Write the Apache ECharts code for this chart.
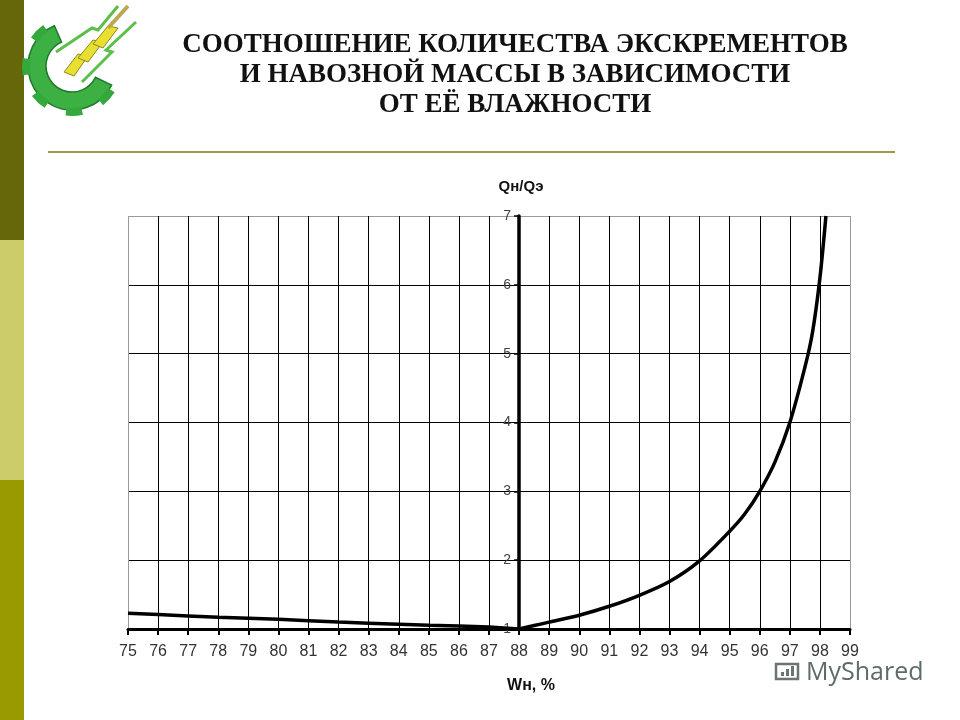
<!DOCTYPE html>
<html>
<head>
<meta charset="utf-8">
<script src="https://cdn.jsdelivr.net/npm/echarts@6/dist/echarts.min.js"></script>
<style>html,body{margin:0;padding:0;background:#fff;}#c{width:960px;height:720px;}</style>
</head>
<body>
<div id="c"></div>
<script>
// Data
const titleLines = ['СООТНОШЕНИЕ КОЛИЧЕСТВА ЭКСКРЕМЕНТОВ', 'И НАВОЗНОЙ МАССЫ В ЗАВИСИМОСТИ', 'ОТ ЕЁ ВЛАЖНОСТИ'];
const xName = 'Wн, %';
const yName = 'Qн/Qэ';
// left branch (W < 88 %)
const leftW = [75, 76, 77, 78, 79, 80, 81, 82, 83, 84, 85, 86, 87, 88];
const leftQ = [1.23, 1.21, 1.19, 1.17, 1.155, 1.14, 1.12, 1.10, 1.085, 1.07, 1.055, 1.045, 1.03, 1.0];
// right branch (W >= 88 %)
const rightW = [88, 88.5, 89, 90, 91, 92, 93, 94, 95, 95.5, 96, 96.5, 97, 97.5, 97.75, 98, 98.2];
const rightQ = [1.0, 1.05, 1.10, 1.20, 1.33, 1.49, 1.69, 1.99, 2.42, 2.67, 3.0, 3.42, 4.0, 4.8, 5.3, 6.1, 7.0];

const chart = echarts.init(document.getElementById('c'));
const GL = 128, GT = 216, GR = 110, GB = 91;
const xMin = 75, xMax = 99, yMin = 1, yMax = 7;
const yAxisAt = 88;
const plotW = 960 - GL - GR;
const yOffset = -(yAxisAt - xMin) / (xMax - xMin) * plotW;

const xSplitColors = ['#9a9a9a'].concat(new Array(xMax - xMin - 1).fill('#000'));
const ySplitColors = ['#9a9a9a'].concat(new Array(yMax - yMin - 1).fill('#000'));

const pair = (xs, ys) => xs.map((x, i) => [x, ys[i]]);

chart.setOption({
  animation: false,
  backgroundColor: '#fff',
  grid: { left: GL, top: GT, right: GR, bottom: GB, show: false },
  xAxis: {
    type: 'value', min: xMin, max: xMax, interval: 1,
    axisLine: { onZero: false, lineStyle: { color: '#000', width: 3 } },
    axisTick: { show: true, length: 6, lineStyle: { color: '#000', width: 2 } },
    axisLabel: { color: '#333', fontFamily: 'Liberation Sans, Arial', fontSize: 16, margin: 15 },
    splitLine: { show: true, lineStyle: { color: xSplitColors, width: 1 } }
  },
  yAxis: {
    type: 'value', min: yMin, max: yMax, interval: 1,
    position: 'left', offset: yOffset,
    axisLine: { show: true, onZero: false, lineStyle: { color: '#000', width: 3.5 } },
    axisTick: { show: true, length: 5, lineStyle: { color: '#000', width: 1.5 } },
    axisLabel: { color: '#444', fontFamily: 'Liberation Sans, Arial', fontSize: 14, margin: 8 },
    splitLine: { show: true, lineStyle: { color: ySplitColors, width: 1 } }
  },
  series: [
    { type: 'line', data: pair(leftW, leftQ), symbol: 'none', clip: true,
      lineStyle: { color: '#000', width: 3.5 } },
    { type: 'line', data: pair(rightW, rightQ), symbol: 'none', smooth: 0.3, clip: true,
      lineStyle: { color: '#000', width: 3.5 } }
  ],
  graphic: [
    { type: 'rect', shape: { x: 0, y: 0, width: 24, height: 240 }, style: { fill: '#66660a' } },
    { type: 'rect', shape: { x: 0, y: 240, width: 24, height: 240 }, style: { fill: '#cccc6a' } },
    { type: 'rect', shape: { x: 0, y: 480, width: 24, height: 240 }, style: { fill: '#999900' } },
    { type: 'rect', shape: { x: 48, y: 151, width: 847, height: 2 }, style: { fill: '#9c9c4a' } },
    // logo (approximation)
    { type: 'sector', shape: { cx: 72, cy: 66, r: 44, r0: 26, startAngle: 0.45, endAngle: 4.3, clockwise: true },
      style: { fill: '#3cb043', stroke: '#1f7a2c', lineWidth: 1.5 } },
    { type: 'sector', shape: { cx: 72, cy: 66, r: 50, r0: 42, startAngle: 0.55, endAngle: 0.9 }, style: { fill: '#35a83c' } },
    { type: 'sector', shape: { cx: 72, cy: 66, r: 50, r0: 42, startAngle: 1.35, endAngle: 1.7 }, style: { fill: '#35a83c' } },
    { type: 'sector', shape: { cx: 72, cy: 66, r: 50, r0: 42, startAngle: 2.15, endAngle: 2.5 }, style: { fill: '#35a83c' } },
    { type: 'sector', shape: { cx: 72, cy: 66, r: 50, r0: 42, startAngle: 2.95, endAngle: 3.3 }, style: { fill: '#35a83c' } },
    { type: 'sector', shape: { cx: 72, cy: 66, r: 50, r0: 42, startAngle: 3.75, endAngle: 4.1 }, style: { fill: '#35a83c' } },
    { type: 'polyline', shape: { points: [[56, 52], [92, 28], [98, 30], [118, 6]] }, style: { stroke: '#5cbf4a', lineWidth: 3 } },
    { type: 'polyline', shape: { points: [[82, 82], [112, 52], [106, 50], [136, 22]] }, style: { stroke: '#5cbf4a', lineWidth: 3 } },
    { type: 'polygon', shape: { points: [[64, 72], [78, 54], [88, 56], [74, 76]] }, style: { fill: '#e8df30', stroke: '#8a8a20', lineWidth: 1 } },
    { type: 'polygon', shape: { points: [[78, 58], [93, 40], [103, 42], [88, 62]] }, style: { fill: '#e8df30', stroke: '#8a8a20', lineWidth: 1 } },
    { type: 'polygon', shape: { points: [[93, 44], [108, 26], [118, 28], [103, 48]] }, style: { fill: '#e8df30', stroke: '#8a8a20', lineWidth: 1 } },
    { type: 'polyline', shape: { points: [[108, 28], [128, 6]] }, style: { stroke: '#b8a850', lineWidth: 4 } },
    // title
    { type: 'text', x: 515, y: 45, style: { text: titleLines[0], textAlign: 'center', textVerticalAlign: 'middle', font: 'bold 27px "Liberation Serif", serif', fill: '#111' } },
    { type: 'text', x: 515, y: 75, style: { text: titleLines[1], textAlign: 'center', textVerticalAlign: 'middle', font: 'bold 27px "Liberation Serif", serif', fill: '#111' } },
    { type: 'text', x: 515, y: 105, style: { text: titleLines[2], textAlign: 'center', textVerticalAlign: 'middle', font: 'bold 27px "Liberation Serif", serif', fill: '#111' } },
    // axis names
    { type: 'text', x: 521, y: 187, style: { text: yName, textAlign: 'center', textVerticalAlign: 'middle', font: 'bold 15px "Liberation Sans", Arial', fill: '#111' } },
    { type: 'text', x: 531, y: 686, style: { text: xName, textAlign: 'center', textVerticalAlign: 'middle', font: 'bold 16px "Liberation Sans", Arial', fill: '#111' } },
    // watermark
    { type: 'rect', shape: { x: 776, y: 664, width: 22, height: 15 }, style: { fill: 'none', stroke: '#6a7572', lineWidth: 2.5 } },
    { type: 'rect', shape: { x: 781, y: 672, width: 3, height: 4 }, style: { fill: '#6a7572' } },
    { type: 'rect', shape: { x: 786, y: 669, width: 3, height: 7 }, style: { fill: '#6a7572' } },
    { type: 'rect', shape: { x: 791, y: 666, width: 3, height: 10 }, style: { fill: '#6a7572' } },
    { type: 'text', x: 806, y: 673, style: { text: 'MyShared', textAlign: 'left', textVerticalAlign: 'middle', font: '25px "Open Sans", sans-serif', fill: '#5f6b68' } }
  ]
});
</script>
</body>
</html>
